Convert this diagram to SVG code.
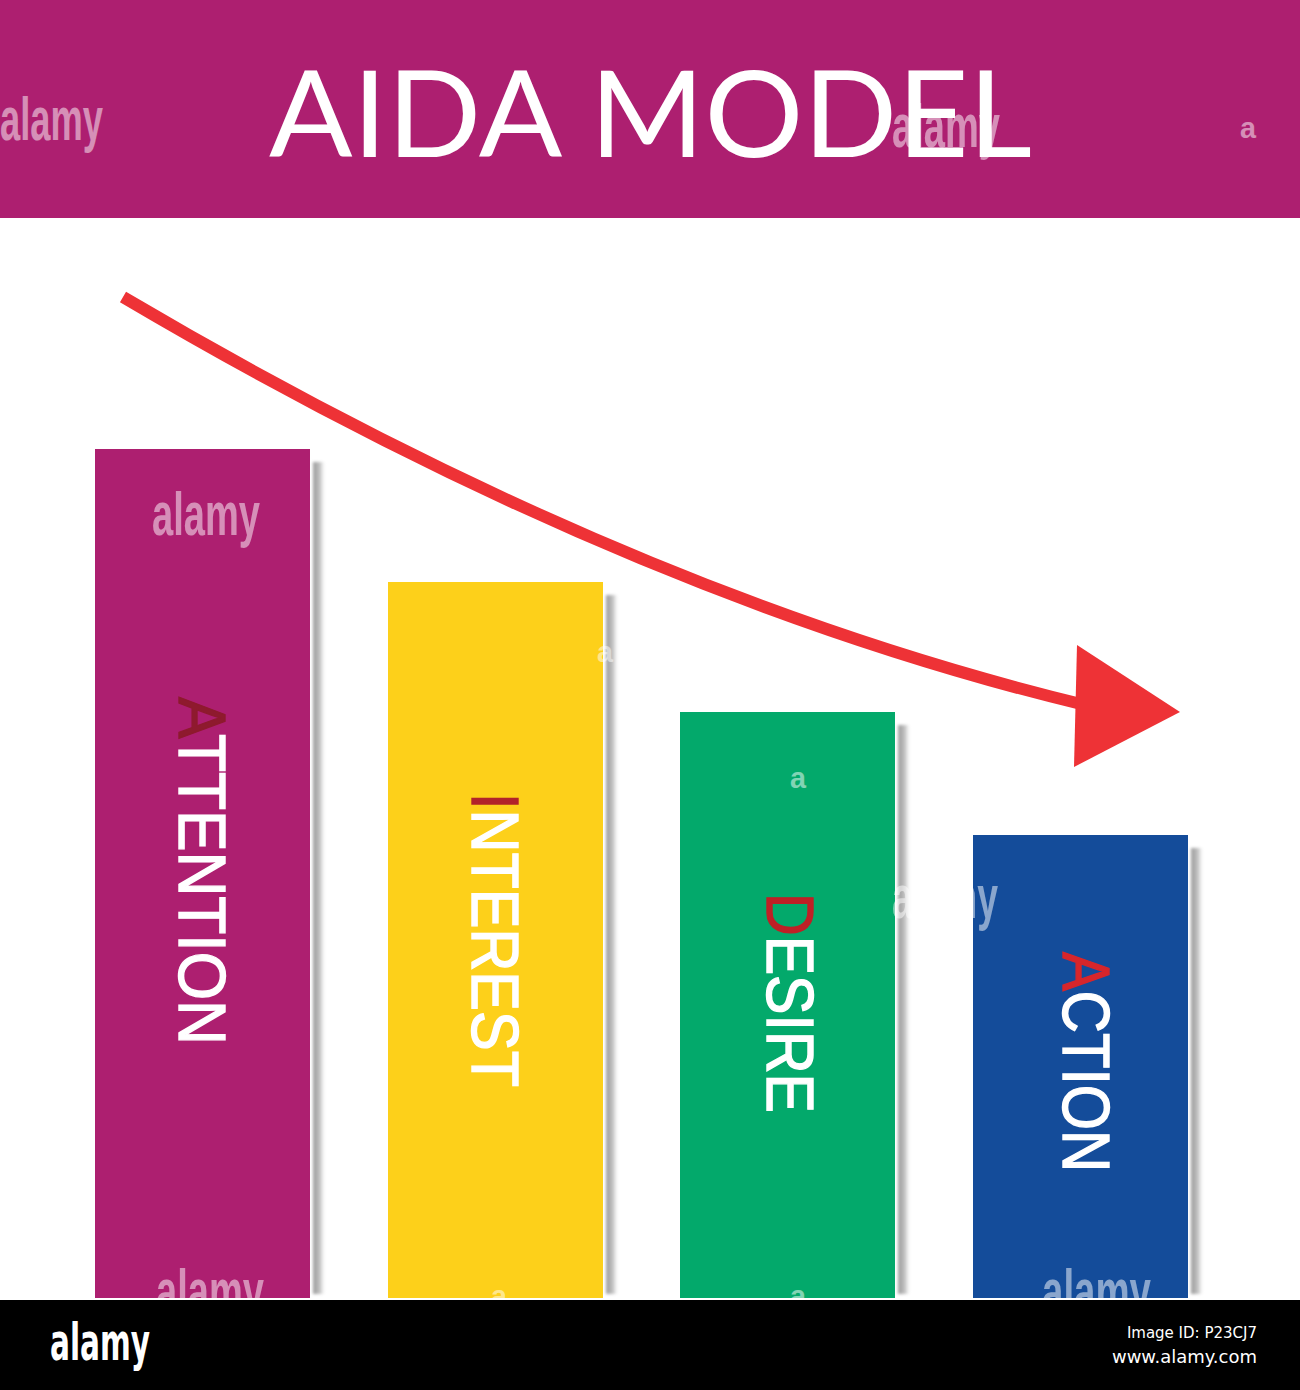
<svg xmlns="http://www.w3.org/2000/svg" width="1300" height="1390" viewBox="0 0 1300 1390">
  <defs>
    <linearGradient id="shadowGrad" x1="0" y1="0" x2="1" y2="0">
      <stop offset="0" stop-color="#9a9a9a"/>
      <stop offset="0.55" stop-color="#c4c4c4"/>
      <stop offset="1" stop-color="#ffffff" stop-opacity="0"/>
    </linearGradient>
    <filter id="blur" x="-50%" y="-5%" width="200%" height="110%">
      <feGaussianBlur stdDeviation="1.5"/>
    </filter>
  </defs>
  <style>
    .title { font-family: Lato, "DejaVu Sans", sans-serif; font-size: 120px; fill: #ffffff; }
    .label { font-family: "Liberation Sans", Arial, sans-serif; font-size: 67px; fill: #ffffff; stroke: #ffffff; stroke-width: 1.4px; }
    .shadow { fill: url(#shadowGrad); filter: url(#blur); }
    .wm { font-family: "Liberation Sans", Arial, sans-serif; font-weight: bold; fill: #ffffff; fill-opacity: 0.5; }
    .wmbig { font-size: 62px; }
    .wmsmall { font-size: 30px; }
    .foot { font-family: "DejaVu Sans", "Liberation Sans", sans-serif; fill: #ffffff; }
  </style>

  <rect x="0" y="0" width="1300" height="1390" fill="#ffffff"/>

  <g id="banner">
    <rect x="0" y="0" width="1300" height="218" fill="#AD1F70"/>
    <text class="title" x="269" y="157" textLength="763" lengthAdjust="spacingAndGlyphs">AIDA MODEL</text>
  </g>

  <g id="bar-attention">
    <rect class="shadow" x="313" y="462" width="13" height="832"/>
    <rect x="95" y="449" width="215" height="849" fill="#AD1F70"/>
    <text class="label" transform="translate(179,697) rotate(90)" textLength="348" lengthAdjust="spacingAndGlyphs"><tspan fill="#8E1A2E" stroke="#8E1A2E">A</tspan>TTENTION</text>
  </g>

  <g id="bar-interest">
    <rect class="shadow" x="606" y="595" width="13" height="699"/>
    <rect x="388" y="582" width="215" height="716" fill="#FDD01A"/>
    <text class="label" transform="translate(472,793) rotate(90)" textLength="294" lengthAdjust="spacingAndGlyphs"><tspan fill="#B1232A" stroke="#B1232A">I</tspan>NTEREST</text>
  </g>

  <g id="bar-desire">
    <rect class="shadow" x="898" y="725" width="13" height="569"/>
    <rect x="680" y="712" width="215" height="586" fill="#03A96B"/>
    <text class="label" transform="translate(767,893) rotate(90)" textLength="220" lengthAdjust="spacingAndGlyphs"><tspan fill="#BF2026" stroke="#BF2026">D</tspan>ESIRE</text>
  </g>

  <g id="bar-action">
    <rect class="shadow" x="1191" y="848" width="13" height="446"/>
    <rect x="973" y="835" width="215" height="463" fill="#144C9A"/>
    <text class="label" transform="translate(1063,952) rotate(90)" textLength="220" lengthAdjust="spacingAndGlyphs"><tspan fill="#D7262B" stroke="#D7262B">A</tspan>CTION</text>
  </g>

  <g id="connectors">
    <path d="M123,297 Q628,595 1085,705" fill="none" stroke="#EE3236" stroke-width="12"/>
    <polygon points="1077,645 1180,712 1074,767" fill="#EE3236"/>
  </g>

  <g id="watermarks" class="wm">
    <text class="wmbig" x="0" y="140" textLength="103" lengthAdjust="spacingAndGlyphs">alamy</text>
    <text class="wmbig" x="892" y="147" textLength="108" lengthAdjust="spacingAndGlyphs">alamy</text>
    <text class="wmbig" x="152" y="535" textLength="108" lengthAdjust="spacingAndGlyphs">alamy</text>
    <text class="wmbig" x="892" y="918" textLength="106" lengthAdjust="spacingAndGlyphs">alamy</text>
    <text class="wmbig" x="156" y="1312" textLength="108" lengthAdjust="spacingAndGlyphs">alamy</text>
    <text class="wmbig" x="1042" y="1312" textLength="109" lengthAdjust="spacingAndGlyphs">alamy</text>
    <text class="wmsmall" x="1240" y="138" textLength="16" lengthAdjust="spacingAndGlyphs">a</text>
    <text class="wmsmall" x="597" y="662" textLength="16" lengthAdjust="spacingAndGlyphs">a</text>
    <text class="wmsmall" x="790" y="788" textLength="16" lengthAdjust="spacingAndGlyphs">a</text>
    <text class="wmsmall" x="491" y="1306" textLength="16" lengthAdjust="spacingAndGlyphs">a</text>
    <text class="wmsmall" x="790" y="1306" textLength="16" lengthAdjust="spacingAndGlyphs">a</text>
  </g>

  <g id="footer">
    <rect x="0" y="1300" width="1300" height="90" fill="#000000"/>
    <text class="foot" x="50" y="1360" font-size="52" font-weight="bold" textLength="100" lengthAdjust="spacingAndGlyphs">alamy</text>
    <text class="foot" x="1257" y="1338" font-size="15" text-anchor="end">Image ID: P23CJ7</text>
    <text class="foot" x="1257" y="1363" font-size="18" text-anchor="end">www.alamy.com</text>
  </g>
</svg>
